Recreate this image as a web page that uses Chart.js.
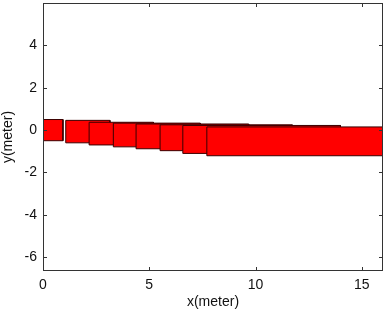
<!DOCTYPE html>
<html>
<head>
<meta charset="utf-8">
<script src="https://cdn.jsdelivr.net/npm/chart.js@4/dist/chart.umd.min.js"></script>
<style>
html,body{margin:0;padding:0;background:#fff;}
canvas{display:block;}
</style>
</head>
<body>
<canvas id="c" width="387" height="314"></canvas>
<script>
// Rectangles (drawn in order, later ones on top)
const boxXStart = [0, 1.07, 2.17, 3.31, 4.38, 5.51, 6.58, 7.71];
const boxXEnd   = [0.94, 3.15, 5.2, 7.4, 9.68, 11.73, 14.0, 16.5];
const boxYTop   = [0.5, 0.46, 0.37, 0.33, 0.29, 0.25, 0.22, 0.15];
const boxYBottom= [-0.5, -0.6, -0.7, -0.79, -0.88, -0.97, -1.1, -1.21];

const xTicks = [0, 5, 10, 15];
const yTicks = [-6, -4, -2, 0, 2, 4];
const xLabel = 'x(meter)';
const yLabel = 'y(meter)';

const FONT = "'Liberation Sans', Arial, sans-serif";

const datasets = boxXStart.map((x0, i) => {
  const x1 = boxXEnd[i], t = boxYTop[i], b = boxYBottom[i];
  return {
    data: [{x:x0,y:t},{x:x1,y:t},{x:x1,y:b},{x:x0,y:b},{x:x0,y:t}],
    fill: 'shape',
    backgroundColor: '#ff0000',
    borderColor: '#3a0000',
    borderWidth: 1,
    pointRadius: 0,
    tension: 0,
    order: -i
  };
});

const framePlugin = {
  id: 'frame',
  afterDraw(chart) {
    const {ctx, chartArea: a, scales} = chart;
    ctx.save();
    ctx.strokeStyle = '#333';
    ctx.lineWidth = 1;
    ctx.strokeRect(Math.round(a.left)+0.5, Math.round(a.top)+0.5,
                   Math.round(a.right-a.left)-1, Math.round(a.bottom-a.top)-1);
    const L = 4;
    ctx.beginPath();
    xTicks.forEach(v => {
      const px = Math.round(scales.x.getPixelForValue(v)) + 0.5;
      ctx.moveTo(px, a.bottom); ctx.lineTo(px, a.bottom - L);
      ctx.moveTo(px, a.top); ctx.lineTo(px, a.top + L);
    });
    yTicks.forEach(v => {
      const py = Math.round(scales.y.getPixelForValue(v)) + 0.5;
      ctx.moveTo(a.left, py); ctx.lineTo(a.left + L, py);
      ctx.moveTo(a.right, py); ctx.lineTo(a.right - L, py);
    });
    ctx.stroke();
    ctx.restore();
  }
};

new Chart(document.getElementById('c'), {
  type: 'line',
  data: { datasets },
  options: {
    responsive: false,
    animation: false,
    events: [],
    layout: { padding: { left: 0, right: 4, top: 3, bottom: 0 } },
    plugins: { legend: { display: false }, tooltip: { enabled: false } },
    scales: {
      x: {
        type: 'linear', min: 0, max: 16,
        afterBuildTicks: s => { s.ticks = xTicks.map(v => ({value: v})); },
        afterFit: s => { s.height = 43; s.paddingLeft = 0; s.paddingRight = 0; },
        grid: { display: false, drawTicks: false },
        border: { display: false },
        ticks: { padding: 6, color: '#111', font: { family: FONT, size: 14 }, maxRotation: 0 },
        title: { display: true, text: xLabel, color: '#111', font: { family: FONT, size: 14 }, padding: { top: 0, bottom: 3 } }
      },
      y: {
        type: 'linear', min: -6.65, max: 6,
        afterBuildTicks: s => { s.ticks = yTicks.map(v => ({value: v})); },
        afterFit: s => { s.width = 43; s.paddingTop = 0; s.paddingBottom = 0; },
        grid: { display: false, drawTicks: false },
        border: { display: false },
        ticks: { padding: 6, color: '#111', font: { family: FONT, size: 14 } },
        title: { display: true, text: yLabel, color: '#111', font: { family: FONT, size: 14 }, padding: { top: 0, bottom: 0 } }
      }
    }
  },
  plugins: [framePlugin]
});
</script>
</body>
</html>
